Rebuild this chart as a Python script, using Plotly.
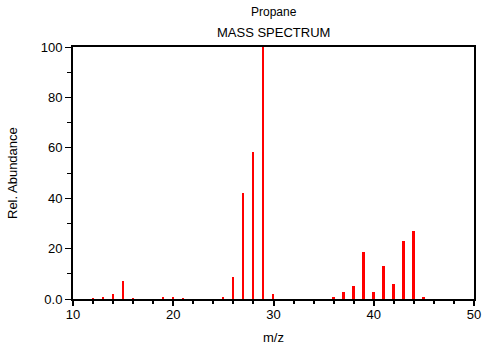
import plotly.graph_objects as go

mz = [12, 13, 14, 15, 16, 19, 20, 21, 25, 26, 27, 28, 29, 30,
      36, 37, 38, 39, 40, 41, 42, 43, 44, 45]
abundance = [0.3, 0.6, 2.0, 7.2, 0.3, 0.5, 0.8, 0.2, 0.6, 8.7, 42.0, 58.5, 100.0, 2.0,
             0.5, 2.8, 5.2, 18.7, 2.8, 13.1, 6.0, 23.0, 27.0, 0.9]

y_tickvals = [0, 20, 40, 60, 80, 100]
y_ticktext = ["0.0", "20", "40", "60", "80", "100"]
x_tickvals = [10, 20, 30, 40, 50]

FONT = "Liberation Sans, Arial, sans-serif"

fig = go.Figure(go.Bar(x=mz, y=abundance, width=0.18,
                       marker=dict(color="#ff0000", line=dict(width=0))))

fig.update_layout(
    width=490, height=345,
    margin=dict(l=73, r=16, t=47, b=46, autoexpand=False),
    plot_bgcolor="white", paper_bgcolor="white",
    font=dict(family=FONT, size=13, color="black"),
    showlegend=False,
    bargap=0,
)
fig.add_annotation(text="Propane", xref="paper", yref="paper", x=0.5, y=1,
                   yanchor="middle", yshift=35, showarrow=False,
                   font=dict(family=FONT, size=12, color="black"))
fig.add_annotation(text="MASS SPECTRUM", xref="paper", yref="paper", x=0.5, y=1,
                   yanchor="middle", yshift=15, showarrow=False,
                   font=dict(family=FONT, size=13, color="black"))
fig.add_annotation(text="m/z", xref="paper", yref="paper", x=0.5, y=0,
                   yanchor="middle", yshift=-38, showarrow=False,
                   font=dict(family=FONT, size=13, color="black"))
fig.add_annotation(text="Rel. Abundance", xref="paper", yref="paper", x=0, y=0.5,
                   xanchor="center", yanchor="middle", xshift=-61, textangle=-90,
                   showarrow=False, font=dict(family=FONT, size=13, color="black"))

fig.update_xaxes(range=[10, 50], tickvals=x_tickvals, showgrid=False, zeroline=False,
                 automargin=False,
                 showline=True, linecolor="black", linewidth=2, mirror=True,
                 ticks="outside", ticklen=5, tickwidth=2, tickcolor="black",
                 ticklabelstandoff=-3,
                 minor=dict(dtick=2, ticks="outside", ticklen=3, tickwidth=2, tickcolor="black"),
                 tickfont=dict(size=13, color="black"))
fig.update_yaxes(range=[0, 100], tickvals=y_tickvals, ticktext=y_ticktext,
                 showgrid=False, zeroline=False, automargin=False,
                 showline=True, linecolor="black", linewidth=2, mirror=True,
                 ticks="outside", ticklen=6, tickwidth=1, tickcolor="black",
                 minor=dict(dtick=10, ticks="outside", ticklen=4, tickwidth=1, tickcolor="black"),
                 tickfont=dict(size=13, color="black"))

fig.write_html("out.html")
